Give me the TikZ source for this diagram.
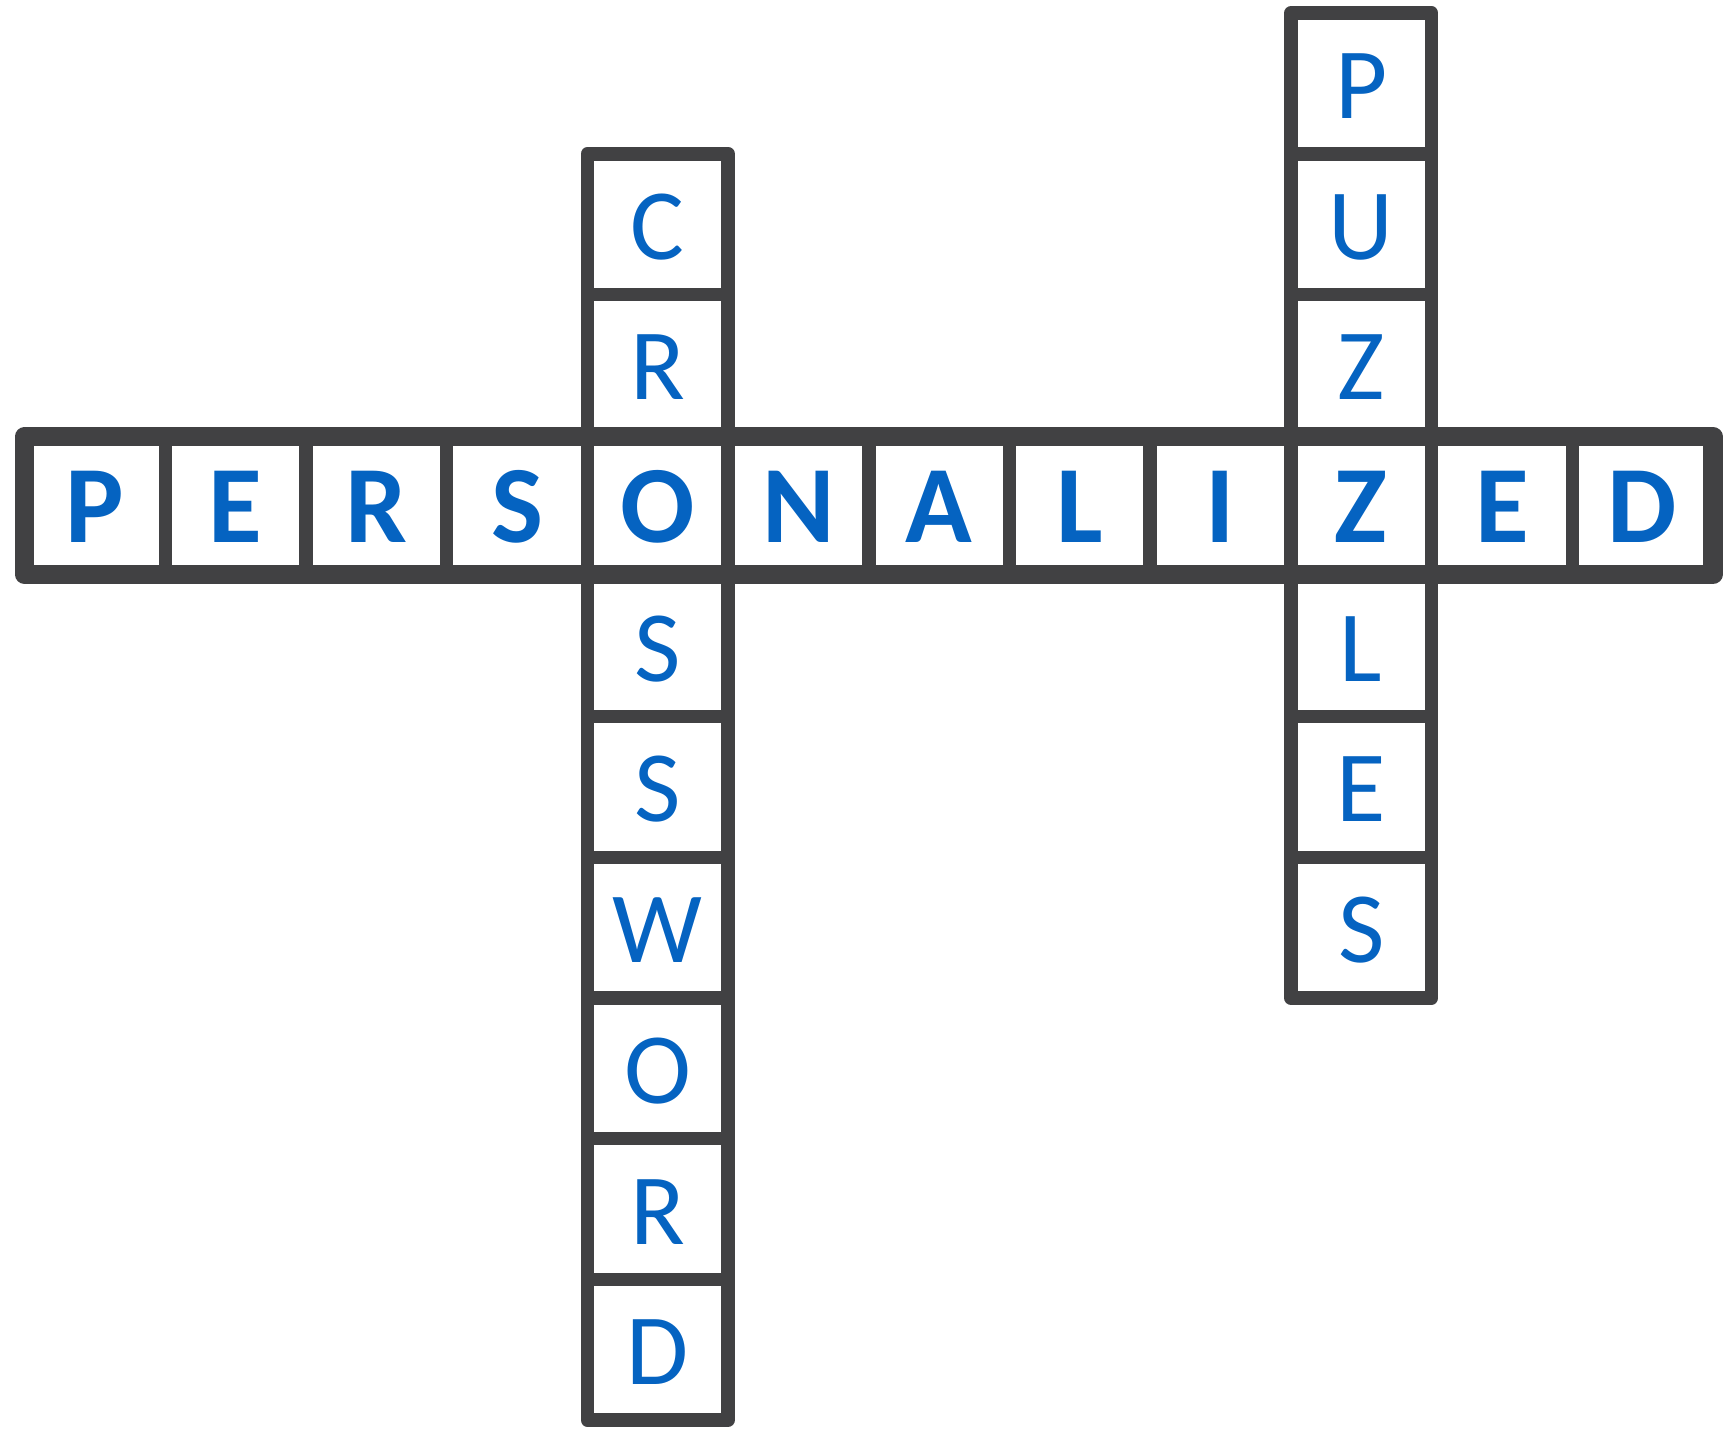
\documentclass[tikz,border=0pt]{standalone}
\usepackage{fontspec}
\setmainfont{Carlito}
\usetikzlibrary{positioning}
\usetikzlibrary{fit}
\usetikzlibrary{backgrounds}
\definecolor{gridgray}{HTML}{414143}
\definecolor{letterblue}{HTML}{0563C1}

\begin{document}
\begin{tikzpicture}[x=1pt,y=-1pt, node distance=0pt]

\tikzstyle{cell}=[draw=gridgray, line width=13.5pt, line join=round, minimum width=140.7pt,
minimum height=140.7pt, inner sep=0pt, outer sep=0pt, text=letterblue]
\tikzstyle{across}=[cell, font=\fontsize{110}{110}\bfseries, text height=73pt, text depth=0pt]
\tikzstyle{down}=[cell, font=\fontsize{101}{101}\selectfont, text height=70pt, text depth=0pt]
\tikzstyle{wordframe}=[draw=gridgray, line width=19.5pt, line join=round, inner xsep=0pt,
inner ysep=-1.5pt]

\useasboundingbox (0,0) rectangle (1736,1438);

% the long word across
\node[across] (pers1) at (94.9,505.5) {P};
\node[across, right=of pers1] (pers2) {E};
\node[across, right=of pers2] (pers3) {R};
\node[across, right=of pers3] (pers4) {S};
\node[across, right=of pers4] (pers5) {O};
\node[across, right=of pers5] (pers6) {N};
\node[across, right=of pers6] (pers7) {A};
\node[across, right=of pers7] (pers8) {L};
\node[across, right=of pers8] (pers9) {I};
\node[across, right=of pers9] (pers10) {Z};
\node[across, right=of pers10] (pers11) {E};
\node[across, right=of pers11] (pers12) {D};

% crossword, down through the O
\node[down, above=of pers5] (cross2) {R};
\node[down, above=of cross2] (cross1) {C};
\node[down, below=of pers5] (cross4) {S};
\node[down, below=of cross4] (cross5) {S};
\node[down, below=of cross5] (cross6) {W};
\node[down, below=of cross6] (cross7) {O};
\node[down, below=of cross7] (cross8) {R};
\node[down, below=of cross8] (cross9) {D};

% puzzles, down through the Z
\node[down, above=of pers10] (puz3) {Z};
\node[down, above=of puz3] (puz2) {U};
\node[down, above=of puz2] (puz1) {P};
\node[down, below=of pers10] (puz5) {L};
\node[down, below=of puz5] (puz6) {E};
\node[down, below=of puz6] (puz7) {S};

\begin{scope}[on background layer]
	\node[wordframe, fit=(pers1)(pers12)] (wordbox) {};
\end{scope}
\end{tikzpicture}
\end{document}
